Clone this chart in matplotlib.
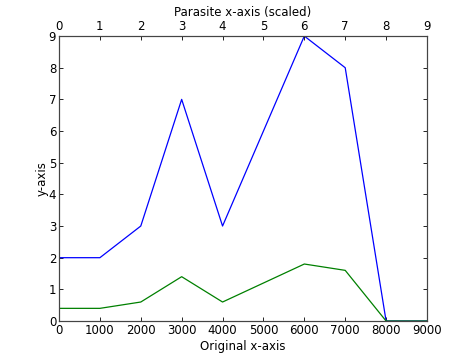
import numpy as np
import matplotlib
matplotlib.use("Agg")
import matplotlib.pyplot as plt

x = [0, 1000, 2000, 3000, 4000, 5000, 6000, 7000, 8000, 9000]
y1 = [2, 2, 3, 7, 3, 6, 9, 8, 0, 0]
y2 = [0.4, 0.4, 0.6, 1.4, 0.6, 1.2, 1.8, 1.6, 0, 0]
top_ticks = [0, 1, 2, 3, 4, 5, 6, 7, 8, 9]

plt.rcParams["font.size"] = 8.5
plt.rcParams["xtick.direction"] = "in"
plt.rcParams["ytick.direction"] = "in"

fig = plt.figure(figsize=(4.74, 3.57), dpi=100)
ax = fig.add_axes([0.1245, 0.1008, 0.7763, 0.7982])
ax.plot(x, y1, color="b", lw=0.9)
ax.plot(x, y2, color="g", lw=0.9)
ax.set_xlim(0, 9000)
ax.set_ylim(0, 9)
ax.set_xticks(x)
ax.set_yticks(range(10))
ax.set_xlabel("Original x-axis", labelpad=2)
ax.set_ylabel("y-axis", labelpad=0)
ax.tick_params(top=False, right=True, length=3, width=0.6, pad=2)

ax2 = ax.twiny()
ax2.set_xlim(0, 9)
ax2.set_xticks(top_ticks)
ax2.set_xlabel("Parasite x-axis (scaled)", labelpad=3)
ax2.tick_params(length=3, width=0.6, pad=2)

for a in (ax, ax2):
    for s in a.spines.values():
        s.set_linewidth(0.8)
        s.set_color("#444444")

fig.savefig("out.png", dpi=100)
